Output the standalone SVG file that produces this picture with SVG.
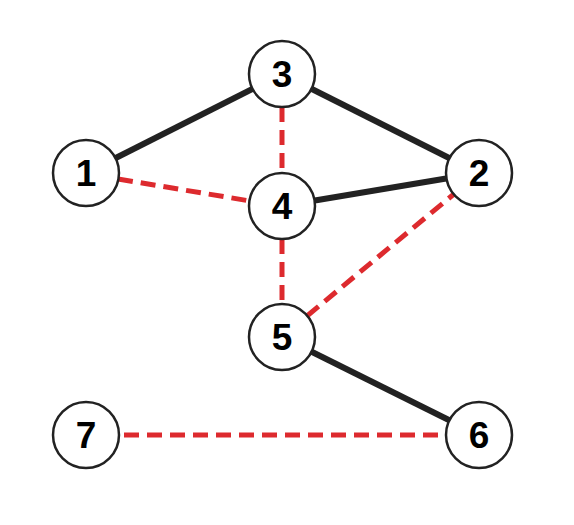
<svg xmlns="http://www.w3.org/2000/svg" width="574" height="525" viewBox="0 0 574 525">
<style>
.solid{stroke:#222;stroke-width:6;fill:none}
.dash{stroke:#dd2a2e;stroke-width:5;stroke-dasharray:15 8;fill:none}
.node circle{fill:#fff;stroke:#222;stroke-width:2.5}
.node text{font-family:"Liberation Sans",Arial,sans-serif;font-weight:bold;font-size:37px;fill:#000;text-anchor:middle;dominant-baseline:central}
</style>
<rect width="574" height="525" fill="#fff"/>
<g id="edges">
<line class="solid" x1="86" y1="173" x2="282" y2="74"/>
<line class="solid" x1="282" y1="74" x2="479" y2="173"/>
<line class="solid" x1="282" y1="206" x2="479" y2="173"/>
<line class="solid" x1="282" y1="337" x2="479" y2="435"/>
<line class="dash" x1="118" y1="179" x2="250" y2="201"/>
<line class="dash" x1="282" y1="107" x2="282" y2="173"/>
<line class="dash" x1="282" y1="239" x2="282" y2="304"/>
<line class="dash" x1="307" y1="316" x2="454" y2="194"/>
<line class="dash" x1="124" y1="435" x2="446" y2="435"/>
</g>
<g id="node1" class="node"><circle cx="86" cy="173" r="33"/><text x="86" y="173">1</text></g>
<g id="node2" class="node"><circle cx="479" cy="173" r="33"/><text x="479" y="173">2</text></g>
<g id="node3" class="node"><circle cx="282" cy="74" r="33"/><text x="282" y="74">3</text></g>
<g id="node4" class="node"><circle cx="282" cy="206" r="33"/><text x="282" y="206">4</text></g>
<g id="node5" class="node"><circle cx="282" cy="337" r="33"/><text x="282" y="337">5</text></g>
<g id="node6" class="node"><circle cx="479" cy="435" r="33"/><text x="479" y="435">6</text></g>
<g id="node7" class="node"><circle cx="86" cy="435" r="33"/><text x="86" y="435">7</text></g>
</svg>
